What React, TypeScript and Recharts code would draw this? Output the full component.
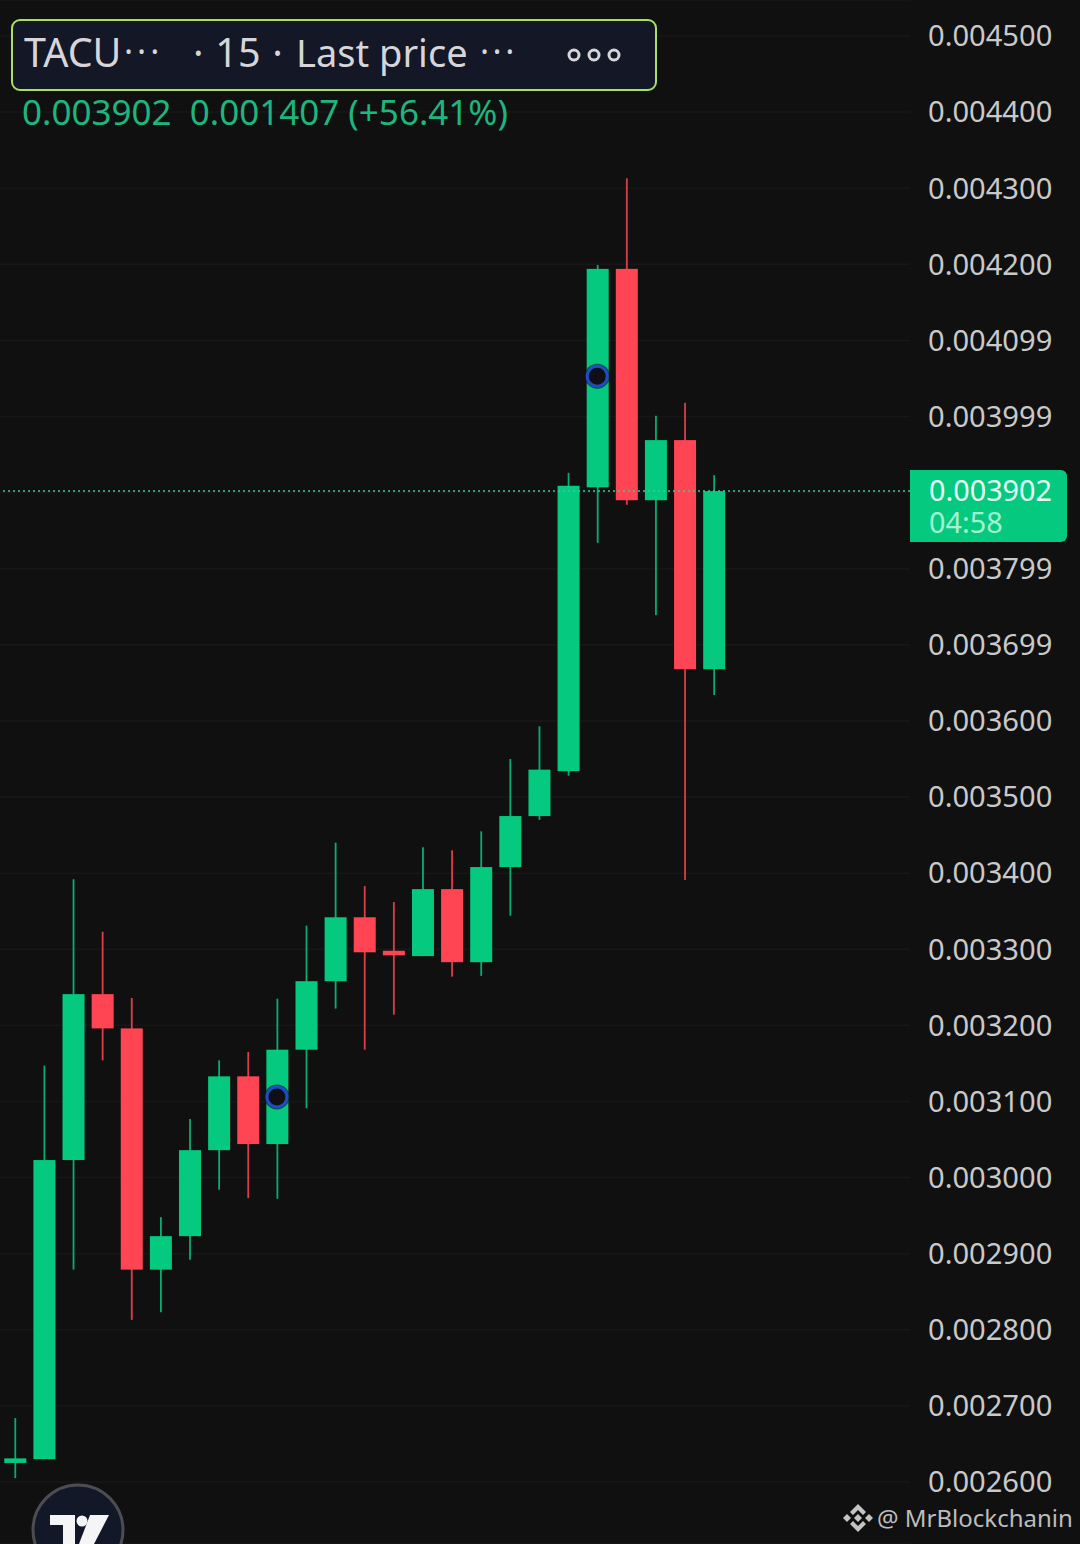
import React from "react";
import {
  Bar,
  CartesianGrid,
  ComposedChart,
  ReferenceDot,
  ReferenceLine,
  XAxis,
  YAxis,
} from "recharts";

const opens = [
  0.002625, 0.00263, 0.003023, 0.003241, 0.003196, 0.002879, 0.002923, 0.003036, 0.003133,
  0.003044, 0.003168, 0.003258, 0.003342, 0.003298, 0.003291, 0.003379, 0.003283, 0.003408,
  0.003475, 0.003534, 0.003907, 0.004194, 0.00389, 0.003969, 0.003668,
];
const closes = [
  0.002631, 0.003023, 0.003241, 0.003196, 0.002879, 0.002923, 0.003036, 0.003133, 0.003044,
  0.003168, 0.003258, 0.003342, 0.003296, 0.003292, 0.003379, 0.003283, 0.003408, 0.003475,
  0.003536, 0.003909, 0.004194, 0.00389, 0.003969, 0.003668, 0.003902,
];
const highs = [
  0.002684, 0.003147, 0.003392, 0.003323, 0.003236, 0.002948, 0.003077, 0.003154, 0.003165,
  0.003235, 0.003331, 0.00344, 0.003383, 0.003362, 0.003434, 0.00343, 0.003455, 0.00355,
  0.003593, 0.003926, 0.004199, 0.004313, 0.004001, 0.004018, 0.003923,
];
const lows = [
  0.002605, 0.00263, 0.002879, 0.003154, 0.002813, 0.002823, 0.002892, 0.002984, 0.002973,
  0.002972, 0.003091, 0.003222, 0.003168, 0.003214, 0.003291, 0.003264, 0.003265, 0.003344,
  0.00347, 0.003528, 0.003834, 0.003884, 0.003739, 0.003391, 0.003634,
];

const priceTicks = [
  0.0045, 0.0044, 0.0043, 0.0042, 0.0041, 0.004, 0.0039, 0.0038, 0.0037, 0.0036, 0.0035, 0.0034,
  0.0033, 0.0032, 0.0031, 0.003, 0.0029, 0.0028, 0.0027, 0.0026,
];
const tickLabels = [
  "0.004500", "0.004400", "0.004300", "0.004200", "0.004099", "0.003999", "", "0.003799",
  "0.003699", "0.003600", "0.003500", "0.003400", "0.003300", "0.003200", "0.003100",
  "0.003000", "0.002900", "0.002800", "0.002700", "0.002600",
];
const timeGridCandles = [11, 23];
const lastPrice = 0.003902;
const markerCandles = [9, 20];
const markerPrices = [0.003106, 0.004053];

const candles = opens.map((open, i) => ({
  idx: i,
  open,
  close: closes[i],
  high: highs[i],
  low: lows[i],
}));

const GREEN = "#05c97f";
const RED = "#ff4553";
const GRID = "#171717";
const FONT = "'Noto Sans', sans-serif";

const Candle = (props: any) => {
  const { x, y, width, height, payload } = props;
  const { open, close, high, low } = payload;
  const up = close >= open;
  const color = up ? GREEN : RED;
  const perUnit = height / (high - low);
  const bodyTop = y + (high - Math.max(open, close)) * perUnit;
  const bodyH = Math.abs(open - close) * perUnit;
  const mid = x + width / 2;
  return (
    <g>
      <rect x={mid - 0.9} y={y} width={1.8} height={height} fill={color} opacity={0.85} />
      <rect x={x} y={bodyTop} width={width} height={bodyH} fill={color} />
    </g>
  );
};

const Marker = (props: any) => (
  <g>
    <circle cx={props.cx} cy={props.cy} r={12.5} fill="#0b1a2a" opacity={0.7} />
    <circle cx={props.cx} cy={props.cy} r={10} fill="#0e1015" stroke="#1f4cc4" strokeWidth={3} />
  </g>
);

const abs = (left: number, top: number): React.CSSProperties => ({
  position: "absolute",
  left,
  top,
  whiteSpace: "pre",
  fontFamily: FONT,
  lineHeight: 1,
});

export default function App() {
  return (
    <div
      style={{
        position: "fixed",
        left: 0,
        top: 0,
        width: 1080,
        height: 1544,
        background: "#101010",
        overflow: "hidden",
      }}
    >
      <ComposedChart
        width={1080}
        height={1544}
        data={candles}
        margin={{ top: 0, right: 0, bottom: 0, left: 0 }}
      >
        <CartesianGrid stroke={GRID} strokeWidth={1.5} verticalValues={timeGridCandles} />
        <XAxis
          type="number"
          dataKey="idx"
          domain={[-0.51, 30.74]}
          height={0}
          axisLine={false}
          tickLine={false}
          tick={false}
        />
        <YAxis
          orientation="right"
          width={170}
          domain={[0.0025185, 0.0045473]}
          ticks={priceTicks}
          interval={0}
          axisLine={false}
          tickLine={false}
          tickMargin={12}
          tick={{ fill: "#c9c9c9", fontSize: 29.1, fontFamily: FONT }}
          tickFormatter={(v: number) => tickLabels[priceTicks.indexOf(v)]}
        />
        <ReferenceLine
          y={lastPrice}
          stroke="#3fc79a"
          strokeWidth={1.5}
          strokeDasharray="2 3"
        />
        <Bar
          dataKey={(d: any) => [d.low, d.high]}
          barSize={22}
          shape={Candle}
          isAnimationActive={false}
        />
        {markerCandles.map((c, i) => (
          <ReferenceDot key={c} x={c} y={markerPrices[i]} shape={Marker} />
        ))}
      </ComposedChart>

      {/* header pill */}
      <div
        style={{
          position: "absolute",
          left: 11,
          top: 19,
          width: 642,
          height: 68,
          border: "2px solid #a9e063",
          borderRadius: 9,
          background: "#131726",
        }}
      />
      <div style={{ ...abs(24, 33), fontSize: 39.5, color: "#d6d6da" }}>TACU</div>
      <div style={{ ...abs(124, 34), fontSize: 34, color: "#d6d6da", letterSpacing: 4 }}>···</div>
      <div style={{ ...abs(193, 33), fontSize: 39.5, color: "#d6d6da", wordSpacing: 1.5 }}>· 15 ·</div>
      <div style={{ ...abs(296, 33), fontSize: 38, color: "#d6d6da" }}>Last price</div>
      <div style={{ ...abs(480, 34), fontSize: 34, color: "#d6d6da", letterSpacing: 3.5 }}>···</div>
      <svg style={{ position: "absolute", left: 560, top: 40 }} width={70} height={30}>
        {[14, 34, 54].map((cx) => (
          <circle key={cx} cx={cx} cy={15} r={5} fill="none" stroke="#d6d6da" strokeWidth={3} />
        ))}
      </svg>
      <div style={{ ...abs(22, 94), fontSize: 35, color: "#1fb57f" }}>
        0.003902{"  "}0.001407 (+56.41%)
      </div>

      {/* last price tag */}
      <div
        style={{
          position: "absolute",
          left: 910,
          top: 470,
          width: 157,
          height: 72,
          background: "#05c97f",
          borderRadius: "0 6px 6px 0",
        }}
      />
      <div style={{ ...abs(929, 476), fontSize: 28.8, color: "#e4fff4" }}>0.003902</div>
      <div style={{ ...abs(929, 508), fontSize: 28.8, color: "#a5f2d2" }}>04:58</div>

      {/* TradingView badge */}
      <svg style={{ position: "absolute", left: 0, top: 1470 }} width={140} height={74}>
        <circle cx={78} cy={60} r={45} fill="#131829" stroke="#4c4d52" strokeWidth={3} />
        <polygon points="50,45 75,45 75,74 63,74 63,55 50,55" fill="#f5f5f5" />
        <circle cx={82} cy={51} r={5.5} fill="#f5f5f5" />
        <polygon points="90,45 109,45 94,74 79,74" fill="#f5f5f5" />
      </svg>

      {/* watermark */}
      <svg style={{ position: "absolute", left: 843, top: 1503 }} width={30} height={30}>
        <g fill="#c4c4c4">
          <polygon points="15,11 19,15 15,19 11,15" />
          <polygon points="4,11 8,15 4,19 0,15" />
          <polygon points="26,11 30,15 26,19 22,15" />
          <polygon points="15,1 23,9 20,12 15,7 10,12 7,9" />
          <polygon points="15,29 23,21 20,18 15,23 10,18 7,21" />
        </g>
      </svg>
      <div style={{ ...abs(877, 1506), fontSize: 24, color: "#bdbdbd" }}>@ MrBlockchanin</div>
    </div>
  );
}
